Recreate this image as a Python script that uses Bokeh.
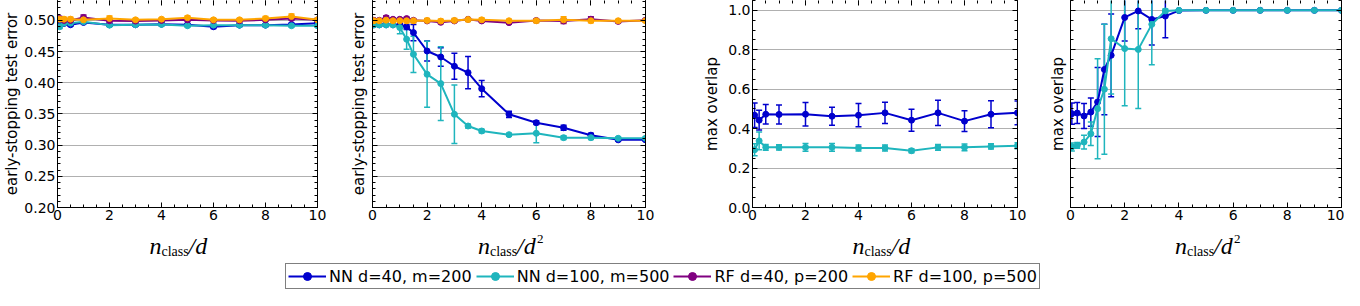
import math
from bokeh.plotting import figure
from bokeh.models import (ColumnDataSource, Whisker, TeeHead, LinearAxis, Range1d, Grid,
                          SingleIntervalTicker, NumeralTickFormatter, Legend, LegendItem)
from bokeh.core.properties import value
from bokeh.layouts import row, column
from bokeh.embed import file_html
from bokeh.resources import INLINE

# ---------------- data ----------------
x_nd = [0.08, 0.25, 0.5, 1, 2, 3, 4, 5, 6, 7, 8, 9, 10]
x_nd2 = [0.05, 0.25, 0.5, 0.75, 1, 1.25, 1.5, 2, 2.5, 3, 3.5, 4, 5, 6, 7, 8, 9, 10]

series_labels = ["NN d=40, m=200", "NN d=100, m=500", "RF d=40, p=200", "RF d=100, p=500"]
series_colors = ["mediumblue", "#1fb5bd", "purple", "orange"]

# panel A: early-stopping test error vs n_class/d
err_a_nn40 = [0.4968, 0.4952, 0.4931, 0.4968, 0.4931, 0.4931, 0.4941, 0.4931, 0.4899, 0.4925, 0.4925, 0.4936, 0.4957]
err_a_nn40_sd = [0.003, 0.002, 0.002, 0.002, 0.002, 0.002, 0.002, 0.002, 0.003, 0.002, 0.002, 0.002, 0.002]
err_a_nn100 = [0.4899, 0.4957, 0.4957, 0.4979, 0.4925, 0.4931, 0.4936, 0.4915, 0.4925, 0.4925, 0.4925, 0.4915, 0.4915]
err_a_nn100_sd = [0.003, 0.002, 0.002, 0.002, 0.002, 0.002, 0.002, 0.002, 0.002, 0.002, 0.002, 0.002, 0.002]
err_a_rf40 = [0.5032, 0.5000, 0.5000, 0.5048, 0.4995, 0.4990, 0.5000, 0.5010, 0.5000, 0.4995, 0.5010, 0.5032, 0.5010]
err_a_rf40_sd = [0.003, 0.002, 0.002, 0.004, 0.002, 0.002, 0.002, 0.002, 0.002, 0.002, 0.002, 0.003, 0.002]
err_a_rf100 = [0.5021, 0.5021, 0.5021, 0.5010, 0.5032, 0.5010, 0.5021, 0.5043, 0.5010, 0.5010, 0.5032, 0.5064, 0.5010]
err_a_rf100_sd = [0.003, 0.003, 0.003, 0.002, 0.004, 0.002, 0.002, 0.003, 0.002, 0.002, 0.003, 0.004, 0.002]

# panel B: early-stopping test error vs n_class/d^2
err_b_nn40 = [0.493, 0.493, 0.493, 0.493, 0.4928, 0.4896, 0.4805, 0.451, 0.4414, 0.4265, 0.4163, 0.3906, 0.3495, 0.336, 0.328, 0.316, 0.3085, 0.3085]
err_b_nn40_sd = [0.002, 0.002, 0.002, 0.002, 0.002, 0.004, 0.013, 0.016, 0.015, 0.021, 0.026, 0.013, 0.005, 0.003, 0.004, 0.003, 0.002, 0.002]
err_b_nn100 = [0.4928, 0.4928, 0.4928, 0.4928, 0.4885, 0.4698, 0.4457, 0.4136, 0.3987, 0.3495, 0.3307, 0.3227, 0.3168, 0.319, 0.312, 0.312, 0.311, 0.311]
err_b_nn100_sd = [0.002, 0.002, 0.002, 0.002, 0.010, 0.016, 0.029, 0.053, 0.059, 0.047, 0.003, 0.003, 0.002, 0.015, 0.003, 0.003, 0.002, 0.002]
err_b_rf40 = [0.5003, 0.5003, 0.5045, 0.5019, 0.5019, 0.5030, 0.5003, 0.4992, 0.4970, 0.4992, 0.5019, 0.4992, 0.4965, 0.5000, 0.4990, 0.5020, 0.4985, 0.5005]
err_b_rf40_sd = [0.002, 0.002, 0.003, 0.002, 0.002, 0.002, 0.002, 0.002, 0.002, 0.002, 0.002, 0.002, 0.002, 0.002, 0.004, 0.004, 0.002, 0.002]
err_b_rf100 = [0.4995, 0.4995, 0.5005, 0.4995, 0.4995, 0.4995, 0.4995, 0.5000, 0.4990, 0.5000, 0.5015, 0.5010, 0.4995, 0.4995, 0.5010, 0.4995, 0.4995, 0.4995]
err_b_rf100_sd = [0.003, 0.003, 0.003, 0.003, 0.003, 0.003, 0.003, 0.003, 0.003, 0.003, 0.003, 0.003, 0.002, 0.003, 0.005, 0.003, 0.002, 0.002]

# panel C: max overlap vs n_class/d
ovl_c_nn40 = [0.468, 0.443, 0.473, 0.472, 0.473, 0.463, 0.468, 0.480, 0.443, 0.480, 0.438, 0.473, 0.480]
ovl_c_nn40_sd = [0.062, 0.050, 0.050, 0.048, 0.059, 0.046, 0.059, 0.054, 0.056, 0.064, 0.053, 0.068, 0.060]
ovl_c_nn100 = [0.293, 0.338, 0.305, 0.305, 0.305, 0.305, 0.302, 0.302, 0.288, 0.305, 0.305, 0.310, 0.313]
ovl_c_nn100_sd = [0.030, 0.045, 0.015, 0.013, 0.020, 0.020, 0.015, 0.015, 0.010, 0.015, 0.017, 0.013, 0.015]

# panel D: max overlap vs n_class/d^2
ovl_d_nn40 = [0.476, 0.479, 0.464, 0.484, 0.535, 0.700, 0.772, 0.964, 0.997, 0.954, 0.971, 0.999, 1.0, 1.0, 1.0, 1.0, 1.0, 1.0]
ovl_d_nn40_sd = [0.054, 0.053, 0.063, 0.072, 0.175, 0.230, 0.210, 0.120, 0.090, 0.130, 0.110, 0.003, 0.002, 0.002, 0.002, 0.002, 0.002, 0.002]
ovl_d_nn100 = [0.307, 0.315, 0.332, 0.374, 0.501, 0.600, 0.856, 0.806, 0.802, 0.929, 0.997, 1.0, 1.0, 1.0, 1.0, 1.0, 1.0, 1.0]
ovl_d_nn100_sd = [0.020, 0.015, 0.035, 0.060, 0.254, 0.330, 0.280, 0.290, 0.300, 0.205, 0.010, 0.003, 0.002, 0.002, 0.002, 0.002, 0.002, 0.002]

err_ylim = (0.2, 0.532)
ovl_ylim = (0.0, 1.05)

# x-axis label of each panel: squared denominator or not
xlabel_squared = [False, True, False, True]

# ---------------- layout constants ----------------
FIG_H = 227
BOTTOM = 20
TOTAL_W = 1344
BOTTOM_H = 63
panel_widths = [330, 370, 330, 314]
panel_borders = [(45, 13), (42, 55), (45, 13), (40, 3)]


def make_axis(ticker, fmt, labels, line=True):
    ax = LinearAxis(ticker=ticker, formatter=fmt)
    ax.major_tick_in = 5
    ax.major_tick_out = 0
    ax.minor_tick_in = 3
    ax.minor_tick_out = 0
    ax.major_tick_line_color = "black"
    ax.minor_tick_line_color = "black"
    ax.axis_line_color = "black" if line else None
    ax.major_label_text_font = "DejaVu Sans"
    ax.major_label_text_font_size = "14px"
    if labels:
        ax.major_label_text_color = "black"
        ax.major_label_standoff = 2
    else:
        ax.major_label_text_color = None
        ax.major_label_standoff = 0
    return ax


def make_panel(idx, ylim, yint, yminor, yfmt, show_ylab, ylabel, ylab_standoff):
    bl, br = panel_borders[idx]
    p = figure(width=panel_widths[idx], height=FIG_H, x_range=Range1d(0, 10), y_range=Range1d(*ylim),
               output_backend="svg", toolbar_location=None,
               x_axis_location=None, y_axis_location=None,
               min_border_left=bl, min_border_right=br, min_border_top=0, min_border_bottom=BOTTOM,
               outline_line_color=None)
    p.grid.visible = False  # drop default grids; only horizontal grid lines are wanted
    yt = lambda: SingleIntervalTicker(interval=yint, num_minor_ticks=yminor)
    xt = lambda: SingleIntervalTicker(interval=2, num_minor_ticks=4)
    left = make_axis(yt(), NumeralTickFormatter(format=yfmt), show_ylab)
    left.axis_label = ylabel
    left.axis_label_text_font = "DejaVu Sans"
    left.axis_label_text_font_size = "15px"
    left.axis_label_text_font_style = "normal"
    left.axis_label_text_color = "black"
    left.axis_label_standoff = ylab_standoff
    p.add_layout(left, "left")
    p.add_layout(make_axis(yt(), NumeralTickFormatter(format=yfmt), False), "right")
    p.add_layout(make_axis(xt(), NumeralTickFormatter(format="0"), True), "below")
    p.add_layout(make_axis(xt(), NumeralTickFormatter(format="0"), False, line=False), "above")
    p.add_layout(Grid(dimension=1, ticker=yt(), grid_line_color="#b0b0b0", grid_line_width=1))
    return p


def plot_series(p, xs, ys, es, color):
    src = ColumnDataSource(dict(x=xs, y=ys,
                                lo=[y - e for y, e in zip(ys, es)],
                                hi=[y + e for y, e in zip(ys, es)]))
    w = Whisker(source=src, base="x", upper="hi", lower="lo", line_color=color, line_width=1.5,
                upper_head=TeeHead(size=6, line_color=color, line_width=1.5),
                lower_head=TeeHead(size=6, line_color=color, line_width=1.5))
    p.add_layout(w)
    p.line("x", "y", source=src, line_color=color, line_width=2)
    p.scatter("x", "y", source=src, size=6, color=color)


# ---------------- panels ----------------
p1 = make_panel(0, err_ylim, 0.05, 5, "0.00", True, "early-stopping test error", 0)
for ys, es, c in [(err_a_nn40, err_a_nn40_sd, series_colors[0]), (err_a_nn100, err_a_nn100_sd, series_colors[1]),
                  (err_a_rf40, err_a_rf40_sd, series_colors[2]), (err_a_rf100, err_a_rf100_sd, series_colors[3])]:
    plot_series(p1, x_nd, ys, es, c)

p2 = make_panel(1, err_ylim, 0.05, 5, "0.00", False, "early-stopping test error", 5)
for ys, es, c in [(err_b_nn40, err_b_nn40_sd, series_colors[0]), (err_b_nn100, err_b_nn100_sd, series_colors[1]),
                  (err_b_rf40, err_b_rf40_sd, series_colors[2]), (err_b_rf100, err_b_rf100_sd, series_colors[3])]:
    plot_series(p2, x_nd2, ys, es, c)

p3 = make_panel(2, ovl_ylim, 0.2, 4, "0.0", True, "max overlap", 4)
for ys, es, c in [(ovl_c_nn40, ovl_c_nn40_sd, series_colors[0]), (ovl_c_nn100, ovl_c_nn100_sd, series_colors[1])]:
    plot_series(p3, x_nd, ys, es, c)

p4 = make_panel(3, ovl_ylim, 0.2, 4, "0.0", False, "max overlap", 4)
for ys, es, c in [(ovl_d_nn40, ovl_d_nn40_sd, series_colors[0]), (ovl_d_nn100, ovl_d_nn100_sd, series_colors[1])]:
    plot_series(p4, x_nd2, ys, es, c)

# ---------------- bottom strip: x-axis labels and legend ----------------
bot = figure(width=TOTAL_W, height=BOTTOM_H, x_range=Range1d(0, TOTAL_W), y_range=Range1d(BOTTOM_H, 0),
             output_backend="svg", toolbar_location=None, min_border=0,
             x_axis_location=None, y_axis_location=None, outline_line_color=None)
bot.grid.visible = False

# centre of each panel's frame, in pixels of the strip
centers = []
x0 = 0
for w, (bl, br) in zip(panel_widths, panel_borders):
    centers.append(x0 + bl + (w - bl - br) / 2)
    x0 += w
centers[0] -= 3  # panel 1 frame is pushed right by its tick labels

it_x, it_y, it_t = [], [], []
sub_x, sub_y, sub_t = [], [], []
sup_x, sup_y, sup_t = [], [], []
for cx, sq in zip(centers, xlabel_squared):
    s = cx - (31 if sq else 29)
    it_x += [s, s + 39]
    it_y += [18, 18]
    it_t += ["n", "/d"]
    sub_x.append(s + 12)
    sub_y.append(24)
    sub_t.append("class")
    if sq:
        sup_x.append(s + 59)
        sup_y.append(11)
        sup_t.append("2")

common = dict(text_font=value("Liberation Serif"), text_color="black",
              text_baseline="alphabetic", text_align="left")
bot.text(x=it_x, y=it_y, text=it_t, text_font_size="24px", text_font_style="italic", **common)
bot.text(x=sub_x, y=sub_y, text=sub_t, text_font_size="14px", **common)
bot.text(x=sup_x, y=sup_y, text=sup_t, text_font_size="13px", **common)

items = []
nan = float("nan")
for lab, c in zip(series_labels, series_colors):
    r1 = bot.line(x=[nan], y=[nan], line_color=c, line_width=2)
    r2 = bot.scatter(x=[nan], y=[nan], marker="dash", angle=math.pi / 2, size=8, line_color=c, line_width=2)
    r3 = bot.scatter(x=[nan], y=[nan], marker="circle", size=6, color=c)
    items.append(LegendItem(label=lab, renderers=[r1, r2, r3]))
legend = Legend(items=items, orientation="horizontal", location=(285, 1),
                label_text_font="DejaVu Sans", label_text_font_size="16px", label_text_color="black",
                glyph_width=38, glyph_height=20, label_height=20, label_standoff=3, spacing=4,
                padding=2, margin=0, border_line_color="black", border_line_width=1,
                background_fill_color="white", background_fill_alpha=1)
bot.add_layout(legend, "center")

layout = column(row(p1, p2, p3, p4), bot)
open("out.html", "w").write(file_html(layout, INLINE))
